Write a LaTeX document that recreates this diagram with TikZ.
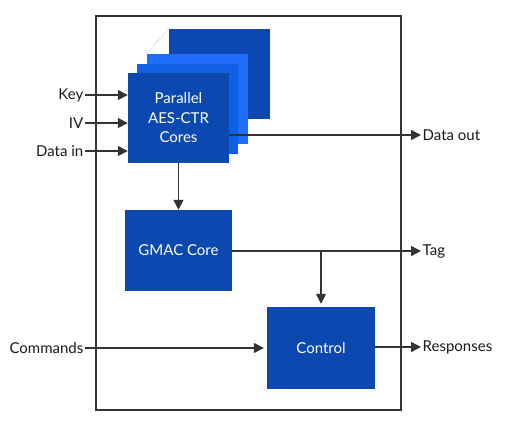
\documentclass[tikz,border=0pt]{standalone}
\usepackage{fontspec}
\setmainfont{Lato}
\usepackage{tikz}
\usetikzlibrary{arrows.meta,positioning}
\definecolor{coreblue}{HTML}{0B48B0}
\definecolor{midblue}{HTML}{1060E6}
\definecolor{brightblue}{HTML}{1E6EFA}
\definecolor{wirecol}{HTML}{333333}
\begin{document}
\begin{tikzpicture}[x=1pt,y=-1pt,
  block/.style={fill=coreblue,text=white,inner sep=0pt,align=center,
    font=\fontsize{15}{19.5}\selectfont},
  sig/.style={inner sep=1.5pt,text=black!90,font=\fontsize{15}{17}\selectfont},
  wire/.style={draw=wirecol,line width=1.6pt,-{Triangle[length=10pt,width=10pt]}}]
  \useasboundingbox (0,0) rectangle (508,422);
  \node[draw=wirecol,line width=2pt,minimum width=305pt,minimum height=394pt,inner sep=0pt] (chip) at (248.5,213) {};
  \node[block,minimum width=101pt,minimum height=90pt] (back) at (219,74) {};
  \node[block,fill=brightblue,minimum width=101pt,minimum height=90pt] (layerb) at (197,99.5) {};
  \node[block,fill=midblue,minimum width=101pt,minimum height=90pt] (layera) at (187.5,109) {};
  \node[block,minimum width=101pt,minimum height=90pt] (aes) at (178.5,118) {Parallel\\AES-CTR\\Cores};
  \draw[densely dotted,thin,gray] (layerb.north west) -- (back.north west);
  \node[block,minimum width=107pt,minimum height=81pt] (gmac) at (178.5,250.5) {GMAC Core};
  \node[block,minimum width=108pt,minimum height=82pt] (control) at (321,348) {Control};

  \node[sig,anchor=east] (key) at (85,95) {Key};
  \node[sig,anchor=east] (iv) at (85,123) {IV};
  \node[sig,anchor=east] (din) at (85,151) {Data in};
  \node[sig,anchor=east] (cmd) at (85,348) {Commands};
  \node[sig,anchor=west] (dout) at (421,135) {Data out};
  \node[sig,anchor=west] (tag) at (421,251) {Tag};
  \node[sig,anchor=west] (resp) at (421,347) {Responses};

  \draw[wire] (key.east) -- (key.east -| aes.west);
  \draw[wire] (iv.east) -- (iv.east -| aes.west);
  \draw[wire] (din.east) -- (din.east -| aes.west);
  \draw[wire] (dout.west -| aes.east) -- (dout.west);
  \draw[wire] (aes.south) -- (gmac.north);
  \draw[wire] (tag.west -| gmac.east) -- (tag.west);
  \coordinate (tap) at (tag.west -| control.north);
  \draw[wire,shorten >=3pt] (tap) -- (control.north);
  \draw[wire,shorten >=3pt] (cmd.east) -- (cmd.east -| control.west);
  \draw[wire] (control.east |- resp.west) -- (resp.west);
\end{tikzpicture}
\end{document}
